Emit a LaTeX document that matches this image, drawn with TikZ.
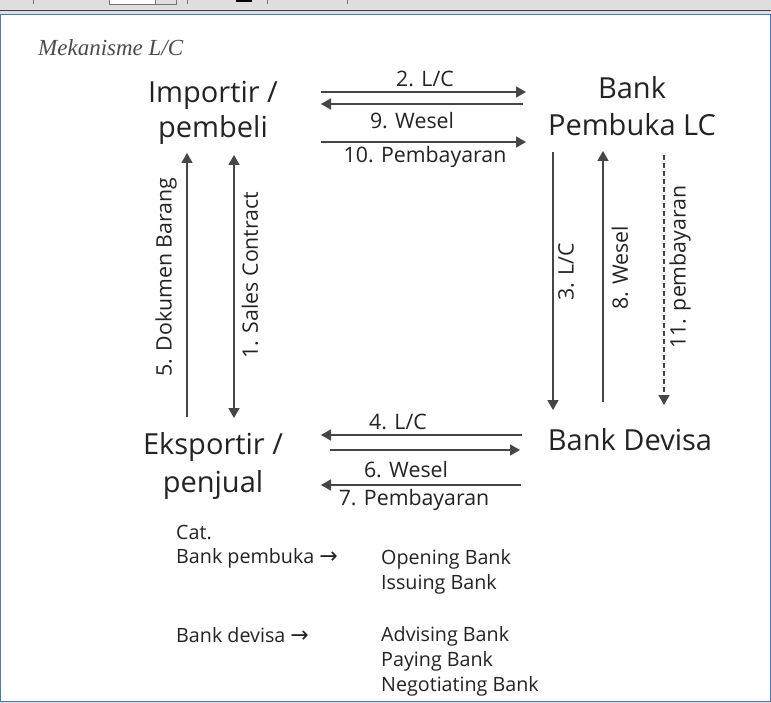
\documentclass[tikz,border=0pt]{standalone}
\usepackage{fontspec}
\setmainfont{Open Sans}
\newfontfamily\titlefont{Liberation Serif}
\usetikzlibrary{arrows.meta}
\definecolor{framecol}{RGB}{66,120,190}
\definecolor{barcol}{RGB}{222,222,222}
\definecolor{inkcol}{RGB}{35,35,35}
\definecolor{linecol}{RGB}{70,70,70}
\newcommand{\notearrow}{{\fontspec{DejaVu Sans}\fontsize{22}{22}\selectfont →}}
\tikzset{
>={Triangle[length=10pt,width=11pt]}, % arrow heads of all the flows
flow/.style={->, line width=1.5pt, draw=linecol},
party/.style={font=\fontsize{29}{29}\selectfont, text=inkcol, inner sep=0pt},
lbl/.style={font=\fontsize{21.3}{21.3}\selectfont, text=inkcol, inner sep=0pt},
vlbl/.style={lbl, rotate=90},
note/.style={font=\fontsize{19.7}{19.7}\selectfont, text=inkcol, inner sep=0pt, anchor=west},
}
\begin{document}
\begin{tikzpicture}[x=1pt,y=-1pt]
		\useasboundingbox (0,0) rectangle (771,703);
		% window around the page
		\fill[barcol] (0,0) rectangle (771,703);
		\draw[black!75, line width=1pt] (0,10.5) -- (771,10.5);
		\fill[white] (109,0) rectangle (155,4);
		\draw[black!55] (33,0) -- (33,4) (187,0) -- (187,4) (267,0) -- (267,4) (347,0) -- (347,4);
		\draw[black!55] (109,0) -- (109,4) -- (176,4) -- (176,0) (155,0) -- (155,4);
		\fill[black] (236,0) rectangle (252,2);
		\draw[fill=white, draw=framecol, line width=1pt] (0.5,14.5) rectangle (770.5,701.5);
		\node[font=\titlefont\itshape\fontsize{23}{23}\selectfont, text=black!70, inner sep=0pt, anchor=west] (title) at (38,48) {Mekanisme L/C};
		% the four parties
		\node[party] (imp1) at (213,95) {Importir /};
		\node[party] (imp2) at (213,130) {pembeli};
		\node[party] (bank1) at (632,88) {Bank};
		\node[party] (bank2) at (632,125) {Pembuka LC};
		\node[party] (eks1) at (213,447) {Eksportir /};
		\node[party] (eks2) at (213,485) {penjual};
		\node[party] (dev) at (630,440) {Bank Devisa};
		% end points of the flows
		\coordinate (a2) at (321,92);
		\coordinate (b2) at (526,92);
		\coordinate (a9) at (523,104);
		\coordinate (b9) at (321,104);
		\coordinate (a10) at (321,142);
		\coordinate (b10) at (526,142);
		\coordinate (a3) at (553,152);
		\coordinate (b3) at (553,410);
		\coordinate (a8) at (603,402);
		\coordinate (b8) at (603,151);
		\coordinate (a11) at (664,155);
		\coordinate (b11) at (664,405);
		\coordinate (a5) at (187,417);
		\coordinate (b5) at (187,153);
		\coordinate (a1) at (234,155);
		\coordinate (b1) at (234,418);
		\coordinate (a4) at (522,435);
		\coordinate (b4) at (321,435);
		\coordinate (a6) at (330,450);
		\coordinate (b6) at (520,450);
		\coordinate (a7) at (521,485);
		\coordinate (b7) at (321,485);
		\draw[flow] (a2) -- (b2);
		\draw[flow] (a9) -- (b9);
		\draw[flow] (a10) -- (b10);
		\draw[flow] (a3) -- (b3);
		\draw[flow] (a8) -- (b8);
		\draw[flow, line width=1.3pt, dash pattern=on 5pt off 3pt] (a11) -- (b11);
		\draw[flow] (a5) -- (b5);
		\draw[flow, <->] (a1) -- (b1);
		\draw[flow] (a4) -- (b4);
		\draw[flow] (a6) -- (b6);
		\draw[flow] (a7) -- (b7);
		% labels of the flows
		\node[lbl] (l2) at (425,79) {2. L/C};
		\node[lbl] (l9) at (412,121) {9. Wesel};
		\node[lbl] (l10) at (425,157) {10. Pembayaran};
		\node[lbl] (l4) at (398,422) {4. L/C};
		\node[lbl] (l6) at (406,470) {6. Wesel};
		\node[lbl] (l7) at (414,500) {7. Pembayaran};
		\node[vlbl] (l5) at (166,277) {5. Dokumen Barang};
		\node[vlbl] (l1) at (250,275) {1. Sales Contract};
		\node[vlbl] (l3) at (566,272) {3. L/C};
		\node[vlbl] (l8) at (620,268) {8. Wesel};
		\node[vlbl] (l11) at (680,267) {11. pembayaran};
		% the note
		\node[note] (cat) at (176,533) {Cat.};
		\node[note] (pem) at (176,558) {Bank pembuka\hspace{5pt}\notearrow};
		\node[note] (open) at (381,559) {Opening Bank};
		\node[note] (iss) at (381,584) {Issuing Bank};
		\node[note] (devi) at (176,635) {Bank devisa\hspace{5pt}\notearrow};
		\node[note] (adv) at (381,636) {Advising Bank};
		\node[note] (pay) at (381,661) {Paying Bank};
		\node[note] (neg) at (381,686) {Negotiating Bank};
	\end{tikzpicture}
\end{document}
